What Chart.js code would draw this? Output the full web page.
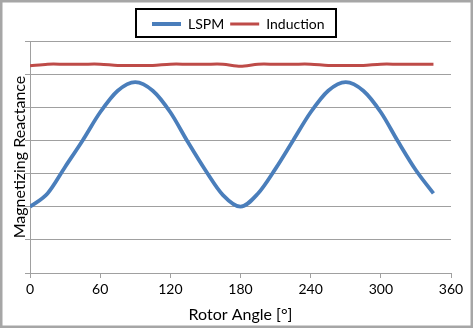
<!DOCTYPE html>
<html>
<head>
<meta charset="utf-8">
<script src="https://cdn.jsdelivr.net/npm/chart.js@4/dist/chart.umd.min.js"></script>
<style>
html,body{margin:0;padding:0;background:#fff;}
canvas{display:block;}
</style>
</head>
<body>
<canvas id="c" width="474" height="330"></canvas>
<script>
const angles = [0,15,30,45,60,75,90,105,120,135,150,165,180,195,210,225,240,255,270,285,300,315,330,345];
const lspm = [2.0,2.4,3.2,4.0,4.85,5.5,5.76,5.5,4.85,3.95,3.1,2.35,2.0,2.4,3.15,4.0,4.85,5.5,5.76,5.5,4.85,3.95,3.1,2.4];
const induction = [6.25,6.3,6.3,6.3,6.3,6.26,6.26,6.26,6.3,6.3,6.3,6.3,6.24,6.3,6.3,6.3,6.3,6.26,6.26,6.26,6.3,6.3,6.3,6.3];
const xTicks = [0,60,120,180,240,300,360];
const seriesNames = ['LSPM','Induction'];
const xTitle = 'Rotor Angle [°]';
const yTitle = 'Magnetizing Reactance';

const FONT = 'Lato, "Open Sans", sans-serif';
const GRID = '#a0a0a0';
const LEGEND_START = 152;

const toPts = arr => arr.map((v,i)=>({x:angles[i], y:v}));

const framePlugin = {
  id:'frame',
  afterUpdate(chart){
    const lg = chart.legend;
    const hb = lg.legendHitBoxes;
    if (hb && hb.length){
      const d = LEGEND_START - hb[0].left;
      lg.left += d; lg.right += d;
      hb.forEach(h=>{ h.left += d; });
    }
  },
  beforeDraw(chart){
    const ctx=chart.ctx;
    ctx.save();
    ctx.fillStyle='#fff';
    ctx.fillRect(0,0,chart.width,chart.height);
    ctx.restore();
  },
  afterDraw(chart){
    const ctx=chart.ctx;
    ctx.save();
    ctx.strokeStyle='#a6a6a6';
    ctx.lineWidth=2.5;
    ctx.strokeRect(1.25,1.25,470.5,325.5);
    const hb = chart.legend.legendHitBoxes;
    if (hb && hb.length){
      const l = hb[0].left - 16;
      const last = hb[hb.length-1];
      const r = last.left + last.width + 11;
      ctx.strokeStyle='#000';
      ctx.lineWidth=2;
      ctx.strokeRect(Math.round(l), 9, Math.round(r-l), 28);
    }
    ctx.restore();
  }
};

new Chart(document.getElementById('c'), {
  type:'line',
  data:{
    datasets:[
      {label:seriesNames[0], data:toPts(lspm), borderColor:'#4a7ebb', backgroundColor:'#4a7ebb', borderWidth:3.8, pointRadius:0, tension:0.4, cubicInterpolationMode:'monotone', fill:false},
      {label:seriesNames[1], data:toPts(induction), borderColor:'#be4b48', backgroundColor:'#be4b48', borderWidth:3, pointRadius:0, tension:0.3, fill:false}
    ]
  },
  options:{
    responsive:false,
    animation:false,
    devicePixelRatio:1,
    layout:{padding:{top:11,left:0,right:23,bottom:0}},
    plugins:{
      legend:{
        position:'top',
        labels:{
          usePointStyle:true,
          pointStyle:'line',
          pointStyleWidth:29,
          boxHeight:14,
          padding:6,
          color:'#000',
          font:{family:FONT,size:14}
        }
      },
      tooltip:{enabled:false}
    },
    scales:{
      x:{
        type:'linear',
        min:0,max:360,
        afterBuildTicks(scale){ scale.ticks = xTicks.map(v=>({value:v})); },
        afterFit(scale){ scale.height = 330-273; },
        ticks:{color:'#000',font:{family:FONT,size:14},padding:3,maxRotation:0,autoSkip:false},
        grid:{drawOnChartArea:false,drawTicks:true,tickLength:5,color:GRID},
        border:{color:GRID,width:1},
        title:{display:true,text:xTitle,color:'#000',font:{family:FONT,size:16},padding:{top:0,bottom:6}}
      },
      y:{
        min:0,max:7,
        ticks:{display:false,stepSize:1},
        afterFit(scale){ scale.width = 30; },
        grid:{color:GRID,drawTicks:true,tickLength:5},
        border:{color:GRID,width:1},
        title:{display:true,text:yTitle,color:'#000',font:{family:FONT,size:16},padding:{top:10,bottom:0}}
      }
    }
  },
  plugins:[framePlugin]
});
</script>
</body>
</html>
